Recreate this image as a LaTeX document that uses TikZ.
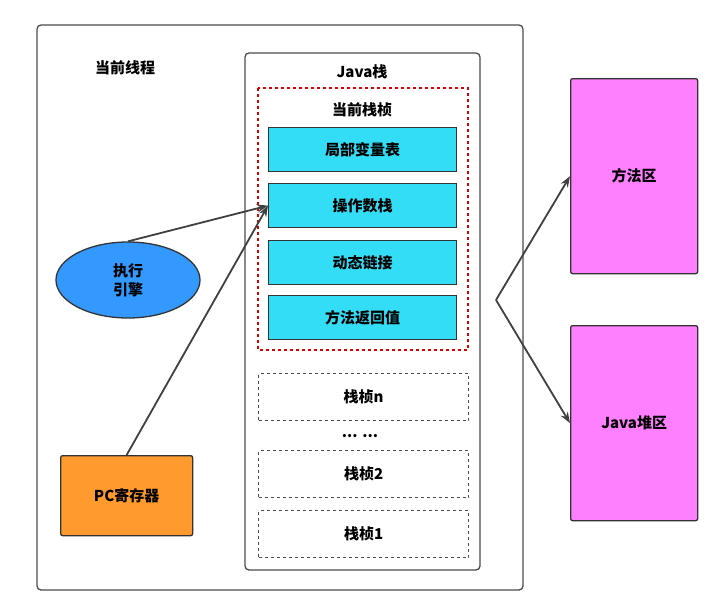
\documentclass[tikz,border=0pt]{standalone}
\usepackage{fontspec}
\newfontfamily\cjk{Noto Sans CJK SC}
\usetikzlibrary{shapes.geometric,arrows.meta}
\definecolor{cyanbox}{HTML}{33DDF5}
\definecolor{bluee}{HTML}{3399FF}
\definecolor{orangebox}{HTML}{FF9A2E}
\definecolor{magbox}{HTML}{FF80FF}
\begin{document}
\begin{tikzpicture}[x=1pt,y=-1pt,font=\cjk\bfseries\fontsize{15}{19}\selectfont,
  every path/.style={line width=1.3pt},
  slot/.style={draw=black!80,fill=cyanbox,minimum width=188pt,minimum height=44pt,anchor=north west},
  frame/.style={draw=black!70,dashed,minimum width=210pt,minimum height=47pt,anchor=north west},
  area/.style={draw=black!80,fill=magbox,minimum width=127pt,minimum height=195pt,anchor=north west,rounded corners=2pt},
  arr/.style={-{Stealth[length=11pt,width=8pt]},line width=1.8pt,black!75}]
\useasboundingbox (0,0) rectangle (713,603);
\draw[black!70,rounded corners=4pt] (37,25) rectangle (523,590);
\node (thread) at (125,68) {当前线程};
\draw[black!70,rounded corners=4pt] (245,53) rectangle (480,570);
\node (stack) at (362,72) {Java栈};
\draw[red!85!black,dashed] (258,88) rectangle (468,350);
\node (cur) at (362,110) {当前栈桢};
\node[slot] (s1) at (268,127) {局部变量表};
\node[slot] (s2) at (268,183) {操作数栈};
\node[slot] (s3) at (268,240) {动态链接};
\node[slot] (s4) at (268,295) {方法返回值};
\node[frame] (fn) at (258,373) {栈桢n};
\node (dots) at (360,436) {... ...};
\node[frame] (f2) at (258,450) {栈桢2};
\node[frame] (f1) at (258,510) {栈桢1};
\node[ellipse,draw=black!80,fill=bluee,minimum width=144pt,minimum height=76pt,align=center] (eng) at (128,280) {执行\\引擎};
\node[draw=black!80,fill=orangebox,minimum width=132pt,minimum height=80pt,anchor=north west,rounded corners=2pt] (pc) at (60,455) {PC寄存器};
\node[area] (meth) at (570,78) {方法区};
\node[area] (heap) at (570,325) {Java堆区};
\coordinate (src) at (496,300);
\draw[arr] (eng.north) -- (s2.west);
\draw[arr] (pc.north) -- (s2.west);
\draw[arr] (src) -- (meth.west);
\draw[arr] (src) -- (heap.west);
\end{tikzpicture}
\end{document}
